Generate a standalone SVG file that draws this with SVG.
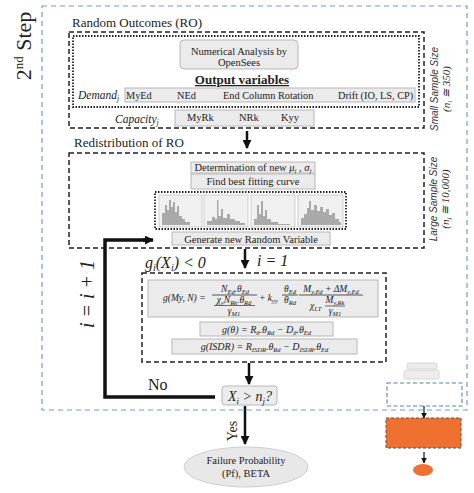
<svg xmlns="http://www.w3.org/2000/svg" width="474" height="493" viewBox="0 0 474 493">
<defs>
<style>
.t{font-family:"Liberation Serif",serif;fill:#222}
.m{font-family:"Liberation Serif",serif;font-style:italic;fill:#222}
.s{font-family:"Liberation Sans",sans-serif;font-style:italic;fill:#333}
.gbox{fill:#ebebeb;stroke:#b8b8b8;stroke-width:1}
.dash{fill:none;stroke:#222;stroke-width:1.5;stroke-dasharray:5 3}
.dot{fill:none;stroke:#222;stroke-width:1.8;stroke-dasharray:1.5 1.5}
.blue{fill:none;stroke:#6f9bd0;stroke-width:1.2;stroke-dasharray:5 4}
.ln{stroke:#111;fill:none}
.hist{fill:#f0f0f0;stroke:#c4c4c4;stroke-width:0.8}
.bar{fill:#a9a9a9}
</style>
<marker id="ah" viewBox="0 0 10 10" refX="9" refY="5" markerWidth="9" markerHeight="9" markerUnits="userSpaceOnUse" orient="auto">
<path d="M0,0 L10,5 L0,10 z" fill="#111"/>
</marker>
<marker id="ahs" viewBox="0 0 10 10" refX="9" refY="5" markerWidth="6" markerHeight="6" markerUnits="userSpaceOnUse" orient="auto">
<path d="M0,0 L10,5 L0,10 z" fill="#111"/>
</marker>
</defs>
<rect width="474" height="493" fill="#fff"/>

<g id="step-frame">
<rect class="blue" x="42" y="6" width="425" height="404"/>
<text class="t" font-size="22" transform="translate(31,46) rotate(-90)" text-anchor="middle">2<tspan font-size="13" dy="-8">nd</tspan><tspan dy="8"> Step</tspan></text>
</g>

<g id="random-outcomes">
<text class="t" x="72" y="27" font-size="13">Random Outcomes (RO)</text>
<rect class="dash" x="69" y="32" width="355" height="96"/>
<rect class="dot" x="73" y="36" width="346" height="71"/>
<rect class="gbox" x="180" y="40" width="118" height="29" rx="4"/>
<text class="t" x="239" y="55" font-size="10.5" text-anchor="middle">Numerical Analysis by</text>
<text class="t" x="239" y="66" font-size="10.5" text-anchor="middle">OpenSees</text>
<text class="t" x="242" y="84" font-size="13" font-weight="bold" text-anchor="middle" text-decoration="underline">Output variables</text>
<text class="m" x="78" y="99" font-size="11.5">Demand<tspan font-size="7.5" dy="2">j</tspan></text>
<rect class="gbox" x="125" y="88" width="290" height="14"/>
<text class="t" font-size="10.3" y="99"><tspan x="126">MyEd</tspan><tspan x="177">NEd</tspan><tspan x="223">End Column Rotation</tspan><tspan x="338">Drift (IO, LS, CP)</tspan></text>
<text class="m" x="115" y="123" font-size="11.5">Capacity<tspan font-size="7.5" dy="2">j</tspan></text>
<rect class="gbox" x="175" y="110" width="139" height="16"/>
<text class="t" font-size="10.5" y="121"><tspan x="187">MyRk</tspan><tspan x="239">NRk</tspan><tspan x="281">Kyy</tspan></text>
<text class="s" font-size="10" transform="translate(438,89) rotate(-90)" text-anchor="middle">Small  Sample Size</text>
<text class="m" font-size="11" transform="translate(450,89) rotate(-90)" text-anchor="middle">(n<tspan font-size="7" dy="2">i</tspan><tspan dy="-2"> ≅ 350)</tspan></text>
</g>

<g id="redistribution">
<text class="t" x="74" y="147" font-size="13">Redistribution of RO</text>
<rect class="dash" x="69" y="153" width="355" height="95"/>
<rect class="gbox" x="191" y="162" width="124" height="11"/>
<text class="t" x="253" y="171" font-size="10.5" text-anchor="middle">Determination of new <tspan font-style="italic">μ</tspan><tspan font-style="italic" font-size="7" dy="2">j</tspan><tspan dy="-2"> , </tspan><tspan font-style="italic">σ</tspan><tspan font-style="italic" font-size="7" dy="2">j</tspan></text>
<rect class="gbox" x="191" y="174" width="124" height="15"/>
<text class="t" x="253" y="185" font-size="10.5" text-anchor="middle">Find best fitting curve</text>
<rect class="dot" x="155" y="192" width="191" height="37"/>
<rect class="hist" x="159" y="195" width="43" height="32"/>
<path class="bar" d="M162,225 V213 H165 V205 H167 V210 H169 V200 H171 V207 H173 V202 H175 V212 H177 V206 H179 V216 H182 V219 H185 V222 H190 V225 Z"/>
<rect class="hist" x="204" y="195" width="44" height="32"/>
<path class="bar" d="M207,225 V221 H212 V217 H215 V219 H217 V200 H218.5 V216 H221 V209 H223 V218 H227 V214 H230 V219 H235 V221 H240 V223 H245 V225 Z"/>
<rect class="hist" x="251" y="195" width="44" height="32"/>
<path class="bar" d="M254,225 V219 H257 V205 H259 V214 H261 V201 H263 V216 H265 V210 H267 V219 H271 V222 H278 V224 H290 V225 Z"/>
<rect class="hist" x="298" y="195" width="45" height="32"/>
<path class="bar" d="M301,225 V218 H304 V214 H307 V208 H309 V201 H311 V210 H314 V205 H317 V211 H320 V207 H323 V212 H326 V209 H329 V215 H332 V213 H335 V219 H339 V222 H341 V225 Z"/>
<rect class="gbox" x="172" y="232" width="158" height="13"/>
<text class="t" x="251" y="242.5" font-size="10.5" text-anchor="middle">Generate new Random Variable</text>
<text class="s" font-size="10" transform="translate(437,199) rotate(-90)" text-anchor="middle">Large Sample Size</text>
<text class="m" font-size="11" transform="translate(449,199) rotate(-90)" text-anchor="middle">(n<tspan font-size="7" dy="2">j</tspan><tspan dy="-2"> ≅ 10,000)</tspan></text>
</g>

<g id="limit-states">
<text class="m" x="145" y="268" font-size="16">g<tspan font-size="10" dy="3">i</tspan><tspan dy="-3">(X</tspan><tspan font-size="10" dy="3">i</tspan><tspan dy="-3">) &lt; 0</tspan></text>
<rect class="dash" x="142" y="273" width="244" height="89"/>
<rect class="gbox" x="148" y="280" width="230" height="37"/>
<g class="m" font-size="9.5">
<text x="163" y="301">g(My, N) =</text>
<text x="235" y="292" text-anchor="middle">N<tspan font-size="6.5" dy="2">Ed</tspan><tspan dy="-2">.θ</tspan><tspan font-size="6.5" dy="2">Ed</tspan></text>
<line class="ln" x1="212" y1="295" x2="257" y2="295" stroke-width="0.7"/>
<text x="234" y="302.5" text-anchor="middle">χ<tspan font-size="6.5" dy="2">y</tspan><tspan dy="-2">N</tspan><tspan font-size="6.5" dy="2">Rk</tspan><tspan dy="-2">.θ</tspan><tspan font-size="6.5" dy="2">Rd</tspan></text>
<line class="ln" x1="214" y1="305.5" x2="255" y2="305.5" stroke-width="0.6"/>
<text x="234" y="313.5" text-anchor="middle">γ<tspan font-size="6.5" dy="2">M1</tspan></text>
<text x="259" y="301">+ k<tspan font-size="6.5" dy="2">yy</tspan></text>
<text x="290" y="292" text-anchor="middle">θ<tspan font-size="6.5" dy="2">Ed</tspan></text>
<line class="ln" x1="282" y1="295" x2="298" y2="295" stroke-width="0.7"/>
<text x="290" y="303" text-anchor="middle">θ<tspan font-size="6.5" dy="2">Rd</tspan></text>
<text x="331" y="292" text-anchor="middle">M<tspan font-size="6.5" dy="2">y,Ed</tspan><tspan dy="-2"> + ΔM</tspan><tspan font-size="6.5" dy="2">y,Ed</tspan></text>
<line class="ln" x1="299" y1="295" x2="363" y2="295" stroke-width="0.7"/>
<text x="310" y="309">χ<tspan font-size="6.5" dy="2">LT</tspan></text>
<text x="335" y="303" text-anchor="middle">M<tspan font-size="6.5" dy="2">y,Rk</tspan></text>
<line class="ln" x1="325" y1="306" x2="345" y2="306" stroke-width="0.6"/>
<text x="335" y="314" text-anchor="middle">γ<tspan font-size="6.5" dy="2">M1</tspan></text>
</g>
<rect class="gbox" x="200" y="322" width="133" height="14"/>
<text class="m" x="266.5" y="332.5" font-size="10" text-anchor="middle">g(θ) = R<tspan font-size="6.5" dy="2">θ</tspan><tspan dy="-2">.θ</tspan><tspan font-size="6.5" dy="2">Rd</tspan><tspan dy="-2"> − D</tspan><tspan font-size="6.5" dy="2">θ</tspan><tspan dy="-2">.θ</tspan><tspan font-size="6.5" dy="2">Ed</tspan></text>
<rect class="gbox" x="172" y="339" width="185" height="15"/>
<text class="m" x="264.5" y="350" font-size="10" text-anchor="middle">g(ISDR) = R<tspan font-size="6.5" dy="2">ISDR</tspan><tspan dy="-2">.θ</tspan><tspan font-size="6.5" dy="2">Rd</tspan><tspan dy="-2"> − D</tspan><tspan font-size="6.5" dy="2">ISDR</tspan><tspan dy="-2">.θ</tspan><tspan font-size="6.5" dy="2">Ed</tspan></text>
</g>

<g id="decision">
<rect x="222" y="386" width="55" height="19" rx="3" fill="#ececec" stroke="#b8b8b8"/>
<text class="m" x="228" y="400.5" font-size="14">X<tspan font-size="9" dy="3">i</tspan><tspan dy="-3"> &gt; n</tspan><tspan font-size="9" dy="3">j</tspan><tspan dy="-3">?</tspan></text>
</g>

<g id="result">
<ellipse cx="246" cy="467" rx="62" ry="20" fill="#e8e8e8" stroke="#cfcfcf"/>
<text class="t" x="246" y="464" font-size="10.5" text-anchor="middle">Failure Probability</text>
<text class="t" x="246" y="477" font-size="10.5" text-anchor="middle">(Pf), BETA</text>
</g>

<g id="legend">
<rect x="407" y="363" width="30" height="6" rx="1.5" fill="#ececec" stroke="#d0d0d0" stroke-width="0.8"/>
<rect x="404" y="370" width="35" height="9" rx="1.5" fill="#ececec" stroke="#d0d0d0" stroke-width="0.8"/>
<rect x="387" y="383" width="75" height="23" fill="#fff" stroke="#5a7fb5" stroke-width="1.1" stroke-dasharray="4 2.5"/>
<rect x="386" y="418" width="75" height="30" fill="#f07030" stroke="#555" stroke-width="1" stroke-dasharray="3 2"/>
<ellipse cx="423" cy="470" rx="10" ry="6" fill="#f07030"/>
</g>

<g id="connectors">
<line class="ln" x1="247" y1="131" x2="247" y2="148" stroke-width="2.5" marker-end="url(#ah)"/>
<line class="ln" x1="245" y1="249" x2="245" y2="268" stroke-width="2.5" marker-end="url(#ah)"/>
<text class="m" x="257" y="266" font-size="16">i = 1</text>
<line class="ln" x1="249" y1="363" x2="249" y2="384" stroke-width="2.5" marker-end="url(#ah)"/>
<polyline class="ln" points="215,397 105,397 105,240 145,240" stroke-width="3.5"/>
<line class="ln" x1="143" y1="240" x2="153" y2="240" stroke-width="3.5" marker-end="url(#ah)"/>
<text class="t" x="148" y="390" font-size="16">No</text>
<text class="m" font-size="20" transform="translate(94,294) rotate(-90)" text-anchor="middle">i = i + 1</text>
<line class="ln" x1="245" y1="406" x2="245" y2="444" stroke-width="2.5" marker-end="url(#ah)"/>
<text class="t" font-size="14" transform="translate(237,431) rotate(-90)" text-anchor="middle">Yes</text>
<line class="ln" x1="424" y1="406" x2="424" y2="418" stroke-width="1.2" marker-end="url(#ahs)"/>
<line class="ln" x1="424" y1="452" x2="424" y2="463" stroke-width="1.2" marker-end="url(#ahs)"/>
</g>
</svg>
